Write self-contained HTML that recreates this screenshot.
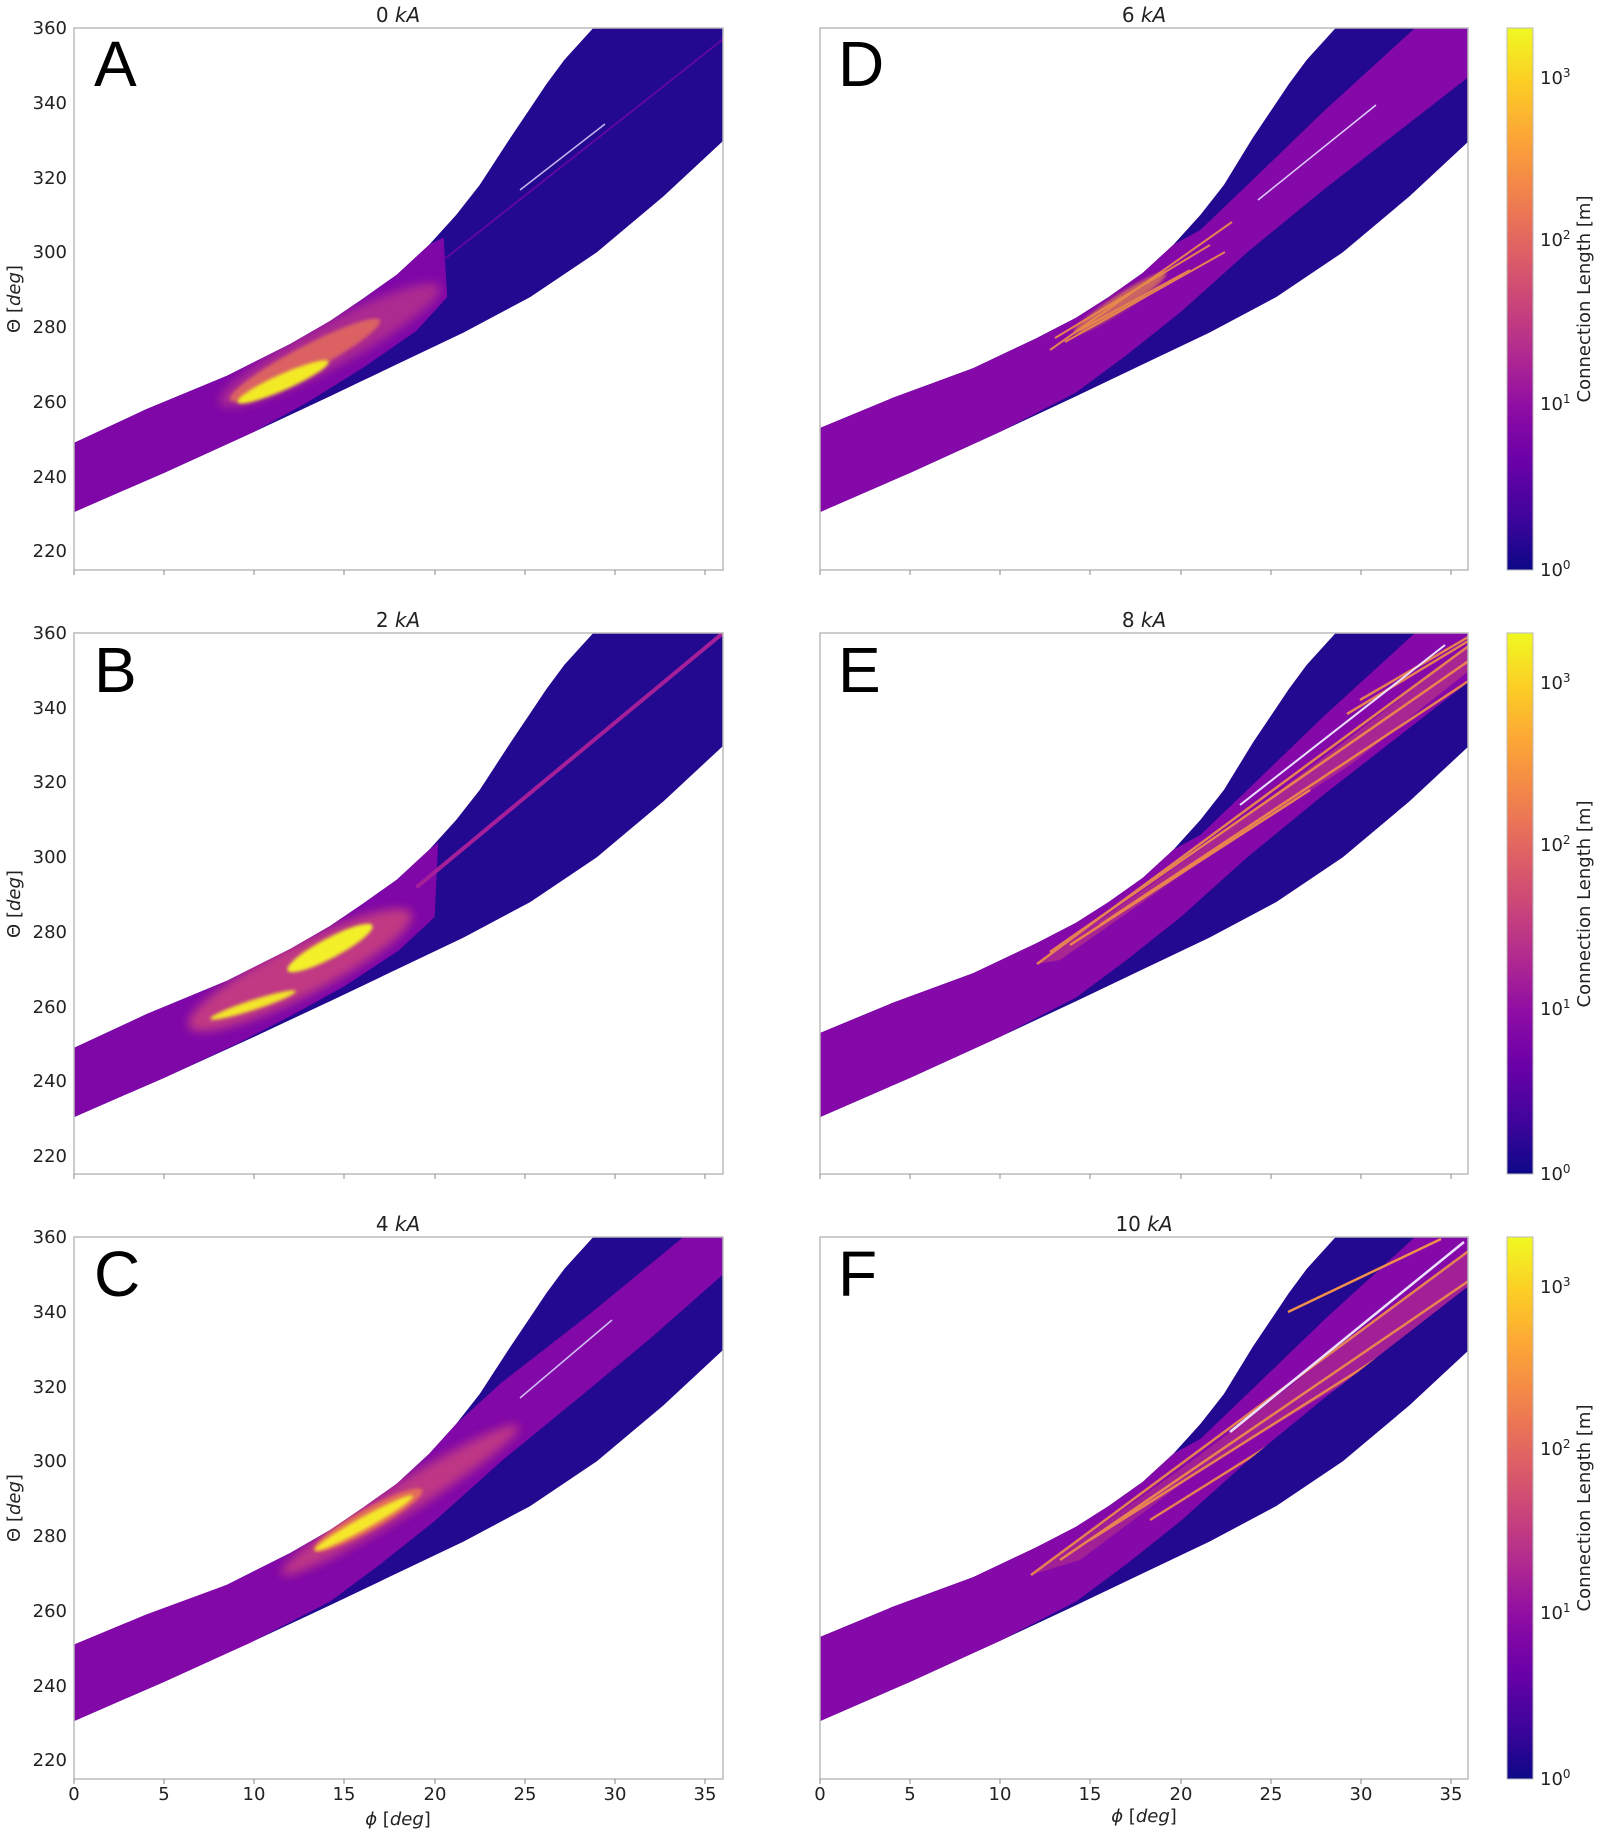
<!DOCTYPE html>
<html><head><meta charset="utf-8"><style>
html,body{margin:0;padding:0;background:#fff;}
svg{display:block;font-family:"DejaVu Sans","Liberation Sans",sans-serif;}
.t{font-size:18px;fill:#222;}
.ttl{font-size:20px;fill:#222;}
.big{font-size:64px;fill:#000;font-family:"Liberation Sans",sans-serif;}
</style></head><body>
<svg width="1600" height="1834" viewBox="0 0 1600 1834" xmlns="http://www.w3.org/2000/svg">
<defs>
<linearGradient id="plasma" x1="0" y1="1" x2="0" y2="0">
<stop offset="0" stop-color="#0d0887"/><stop offset="0.1" stop-color="#41049d"/><stop offset="0.2" stop-color="#6a00a8"/><stop offset="0.3" stop-color="#8f0da4"/><stop offset="0.4" stop-color="#b12a90"/><stop offset="0.5" stop-color="#cc4778"/><stop offset="0.6" stop-color="#e16462"/><stop offset="0.7" stop-color="#f2844b"/><stop offset="0.8" stop-color="#fca636"/><stop offset="0.9" stop-color="#fcce25"/><stop offset="1" stop-color="#f0f921"/>
</linearGradient>
<filter id="bl" x="-50%" y="-50%" width="200%" height="200%"><feGaussianBlur stdDeviation="5"/></filter>
<filter id="bl2" x="-50%" y="-50%" width="200%" height="200%"><feGaussianBlur stdDeviation="1.5"/></filter>
<path id="outerL" d="M0,230.5 L5,241 L10,252 L14.2,261.5 L17.9,270 L21.6,278.5 L25.3,288 L29,300 L32.7,315 L36,329.8 L36,360 L28.8,360 L27.2,351.5 L26.2,345 L25.3,338.5 L24.2,330.6 L22.5,318 L21.2,310 L19.7,302 L17.9,294 L16,287.5 L14.2,281.6 L12,275.5 L8.5,267 L4,258 L0,249 Z"/>
<path id="outerR" d="M0,230.5 L5,241 L10,252 L14.2,261.5 L17.9,270 L21.6,278.5 L25.3,288 L29,300 L32.7,315 L36,329.8 L36,360 L28.6,360 L27,351.5 L26,345 L25.1,338.5 L24,330.6 L22.4,318 L21.1,310 L19.6,302 L17.9,294.5 L16,288 L14.2,282.5 L12,277 L8.5,269 L4,261 L0,253 Z"/>
<path id="purpR" d="M0,230.5 L5,241 L10,252 L14.2,262.5 L17,272.5 L20,284 L23.7,300 L28,317 L32,332 L36,347 L36,360 L33,360 L28,338 L23.7,318 L21.1,306 L19.6,302 L17.9,294.5 L16,288 L14.2,282.5 L12,277 L8.5,269 L4,261 L0,253 Z"/>
<clipPath id="cA"><rect x="74" y="28" width="649" height="542"/></clipPath>
<clipPath id="cB"><rect x="74" y="633" width="649" height="541"/></clipPath>
<clipPath id="cC"><rect x="74" y="1237" width="649" height="542"/></clipPath>
<clipPath id="cD"><rect x="820" y="28" width="648" height="542"/></clipPath>
<clipPath id="cE"><rect x="820" y="633" width="648" height="541"/></clipPath>
<clipPath id="cF"><rect x="820" y="1237" width="648" height="542"/></clipPath>
<clipPath id="kA"><use href="#outerL" transform="translate(74,28) scale(18.03,3.738) translate(0,360) scale(1,-1)"/></clipPath>
<clipPath id="kB"><use href="#outerL" transform="translate(74,633) scale(18.03,3.738) translate(0,360) scale(1,-1)"/></clipPath>
<clipPath id="kC"><use href="#outerL" transform="translate(74,1237) scale(18.03,3.738) translate(0,360) scale(1,-1)"/></clipPath>
<clipPath id="kD"><use href="#purpR" transform="translate(820,28) scale(18.03,3.738) translate(0,360) scale(1,-1)"/></clipPath>
<clipPath id="kE"><use href="#purpR" transform="translate(820,633) scale(18.03,3.738) translate(0,360) scale(1,-1)"/></clipPath>
<clipPath id="kF"><use href="#purpR" transform="translate(820,1237) scale(18.03,3.738) translate(0,360) scale(1,-1)"/></clipPath>
</defs>

<!-- ===== Panel A ===== -->
<g clip-path="url(#cA)">
<g transform="translate(74,28) scale(18.03,3.738) translate(0,360) scale(1,-1)">
<use href="#outerL" fill="#22098f"/>
<path d="M0,230.5 L5,241 L10,252 L13,260 L16,269 L19,279 L20.7,288 L20.5,304 L19.7,302 L17.9,294 L16,287.5 L14.2,281.6 L12,275.5 L8.5,267 L4,258 L0,249 Z" fill="#7f07a8"/>
<path d="M20.5,298 L36,357" stroke="#5f06a6" stroke-width="2" fill="none" vector-effect="non-scaling-stroke"/>
</g>
<g clip-path="url(#kA)">
<ellipse cx="330" cy="345" rx="125" ry="22" transform="rotate(-28 330 345)" fill="#b8348a" opacity="0.8" filter="url(#bl)"/>
<ellipse cx="305" cy="360" rx="85" ry="13" transform="rotate(-28 305 360)" fill="#e0685f" opacity="0.9" filter="url(#bl2)"/>
<ellipse cx="283" cy="382" rx="50" ry="8" transform="rotate(-24 283 382)" fill="#f3ea28" filter="url(#bl2)"/>
</g>
<line x1="520" y1="190" x2="605" y2="124" stroke="#c9b8f0" stroke-width="1.5"/>
</g>
<rect x="74" y="28" width="649" height="542" fill="none" stroke="#bbb" stroke-width="1.5"/>

<!-- ===== Panel B ===== -->
<g clip-path="url(#cB)">
<g transform="translate(74,633) scale(18.03,3.738) translate(0,360) scale(1,-1)">
<use href="#outerL" fill="#22098f"/>
<path d="M0,230.5 L5,241 L9,250 L12,257.5 L15,265.5 L18,275 L20,284 L20.2,304 L19.7,302 L17.9,294 L16,287.5 L14.2,281.6 L12,275.5 L8.5,267 L4,258 L0,249 Z" fill="#7f07a8"/>
<path d="M19,292 L36,360" stroke="#a51f9a" stroke-width="4" fill="none" vector-effect="non-scaling-stroke"/>
</g>
<g clip-path="url(#kB)">
<ellipse cx="300" cy="970" rx="125" ry="26" transform="rotate(-27 300 970)" fill="#c9407f" opacity="0.9" filter="url(#bl)"/>
<ellipse cx="330" cy="948" rx="48" ry="10" transform="rotate(-28 330 948)" fill="#f3f02a" filter="url(#bl2)"/>
<ellipse cx="253" cy="1005" rx="45" ry="5" transform="rotate(-18 253 1005)" fill="#f3e52a" filter="url(#bl2)"/>
</g>
</g>
<rect x="74" y="633" width="649" height="541" fill="none" stroke="#bbb" stroke-width="1.5"/>

<!-- ===== Panel C ===== -->
<g clip-path="url(#cC)">
<g transform="translate(74,1237) scale(18.03,3.738) translate(0,360) scale(1,-1)">
<use href="#outerL" fill="#22098f"/>
<path d="M0,230.5 L5,241 L9.8,251.5 L14.2,262.5 L17,272.5 L20,284 L23.7,300 L28,317 L32,333 L36,350 L36,360 L33.8,360 L28.5,339 L23.7,321 L21.2,310 L19.7,302 L17.9,294 L16,287.5 L14.2,281.6 L12,275.5 L8.5,267 L4,259 L0,251 Z" fill="#8208a8"/>
</g>
<g clip-path="url(#kC)">
<ellipse cx="400" cy="1500" rx="140" ry="16" transform="rotate(-32 400 1500)" fill="#c9407f" opacity="0.85" filter="url(#bl)"/>
<ellipse cx="368" cy="1520" rx="62" ry="11" transform="rotate(-29 368 1520)" fill="#ee7a50" opacity="0.8" filter="url(#bl2)"/>
<ellipse cx="364" cy="1523" rx="56" ry="6" transform="rotate(-29 364 1523)" fill="#f5e82c" filter="url(#bl2)"/>
</g>
<line x1="520" y1="1398" x2="612" y2="1320" stroke="#d0c0f5" stroke-width="1.5"/>
</g>
<rect x="74" y="1237" width="649" height="542" fill="none" stroke="#bbb" stroke-width="1.5"/>

<!-- ===== Panel D ===== -->
<g clip-path="url(#cD)">
<g transform="translate(820,28) scale(18.03,3.738) translate(0,360) scale(1,-1)">
<use href="#outerR" fill="#22098f"/>
<use href="#purpR" fill="#8508a8"/>
</g>
<g clip-path="url(#kD)" stroke="#f0904a" stroke-width="2" fill="none" opacity="0.9">
<line x1="1050" y1="350" x2="1232" y2="222"/>
<line x1="1055" y1="338" x2="1210" y2="245"/>
<line x1="1065" y1="342" x2="1225" y2="252"/>
<line x1="1080" y1="330" x2="1190" y2="270"/>
<ellipse cx="1120" cy="303" rx="55" ry="8" transform="rotate(-33 1120 303)" fill="#f39a3d" opacity="0.7" stroke="none" filter="url(#bl2)"/>
</g>
<line x1="1258" y1="200" x2="1376" y2="105" stroke="#e0d0ff" stroke-width="1.5"/>
</g>
<rect x="820" y="28" width="648" height="542" fill="none" stroke="#bbb" stroke-width="1.5"/>

<!-- ===== Panel E ===== -->
<g clip-path="url(#cE)">
<g transform="translate(820,633) scale(18.03,3.738) translate(0,360) scale(1,-1)">
<use href="#outerR" fill="#22098f"/>
<use href="#purpR" fill="#8508a8"/>
</g>
<g clip-path="url(#kE)">
<polygon points="1037,964 1200,850 1340,745 1470,645 1470,670 1350,765 1200,862 1060,960" fill="#b4308a" opacity="0.75"/>
<g stroke="#f0904a" stroke-width="2.5" fill="none" opacity="0.9">
<line x1="1037" y1="964" x2="1470" y2="645"/>
<line x1="1050" y1="952" x2="1470" y2="660"/>
<line x1="1070" y1="945" x2="1310" y2="790"/>
<line x1="1100" y1="925" x2="1470" y2="680"/>
<line x1="1347" y1="714" x2="1470" y2="640"/>
<line x1="1360" y1="700" x2="1470" y2="636"/>
</g>
</g>
<line x1="1240" y1="805" x2="1445" y2="645" stroke="#ece0ff" stroke-width="2"/>
</g>
<rect x="820" y="633" width="648" height="541" fill="none" stroke="#bbb" stroke-width="1.5"/>

<!-- ===== Panel F ===== -->
<g clip-path="url(#cF)">
<g transform="translate(820,1237) scale(18.03,3.738) translate(0,360) scale(1,-1)">
<use href="#outerR" fill="#22098f"/>
<use href="#purpR" fill="#8508a8"/>
</g>
<g clip-path="url(#kF)">
<polygon points="1031,1575 1200,1455 1350,1340 1470,1250 1470,1290 1350,1380 1200,1470 1080,1560" fill="#b4308a" opacity="0.6"/>
<g stroke="#f0904a" stroke-width="2.5" fill="none" opacity="0.9">
<line x1="1031" y1="1575" x2="1470" y2="1250"/>
<line x1="1060" y1="1560" x2="1470" y2="1280"/>
<line x1="1090" y1="1540" x2="1470" y2="1300"/>
<line x1="1150" y1="1520" x2="1470" y2="1320"/>
</g>
</g>
<line x1="1288" y1="1312" x2="1441" y2="1239" stroke="#f0904a" stroke-width="2.5"/>
<line x1="1230" y1="1432" x2="1464" y2="1242" stroke="#ece0ff" stroke-width="2.5"/>
</g>
<rect x="820" y="1237" width="648" height="542" fill="none" stroke="#bbb" stroke-width="1.5"/>

<!-- tick marks -->
<g stroke="#888" stroke-width="1">
<path d="M74,570v5M164,570v5M254,570v5M344,570v5M435,570v5M525,570v5M615,570v5M705,570v5 M74,1174v5M164,1174v5M254,1174v5M344,1174v5M435,1174v5M525,1174v5M615,1174v5M705,1174v5 M74,1779v5M164,1779v5M254,1779v5M344,1779v5M435,1779v5M525,1779v5M615,1779v5M705,1779v5"/>
<path d="M820,570v5M910,570v5M1000,570v5M1090,570v5M1181,570v5M1271,570v5M1361,570v5M1451,570v5 M820,1174v5M910,1174v5M1000,1174v5M1090,1174v5M1181,1174v5M1271,1174v5M1361,1174v5M1451,1174v5 M820,1779v5M910,1779v5M1000,1779v5M1090,1779v5M1181,1779v5M1271,1779v5M1361,1779v5M1451,1779v5"/>
</g>

<!-- Big letters -->
<text class="big" x="94" y="86">A</text>
<text class="big" x="94" y="692">B</text>
<text class="big" x="94" y="1296">C</text>
<text class="big" x="838" y="86">D</text>
<text class="big" x="838" y="692">E</text>
<text class="big" x="838" y="1296">F</text>

<!-- Titles -->
<g class="ttl" text-anchor="middle">
<text x="398" y="22">0 <tspan font-style="italic">kA</tspan></text>
<text x="398" y="627">2 <tspan font-style="italic">kA</tspan></text>
<text x="398" y="1231">4 <tspan font-style="italic">kA</tspan></text>
<text x="1144" y="22">6 <tspan font-style="italic">kA</tspan></text>
<text x="1144" y="627">8 <tspan font-style="italic">kA</tspan></text>
<text x="1144" y="1231">10 <tspan font-style="italic">kA</tspan></text>
</g>

<!-- Y ticks left -->
<g class="t" text-anchor="end">
<text x="67" y="34">360</text><text x="67" y="109">340</text><text x="67" y="184">320</text><text x="67" y="258">300</text><text x="67" y="333">280</text><text x="67" y="408">260</text><text x="67" y="483">240</text><text x="67" y="557">220</text>
<text x="67" y="639">360</text><text x="67" y="714">340</text><text x="67" y="788">320</text><text x="67" y="863">300</text><text x="67" y="938">280</text><text x="67" y="1013">260</text><text x="67" y="1087">240</text><text x="67" y="1162">220</text>
<text x="67" y="1243">360</text><text x="67" y="1318">340</text><text x="67" y="1393">320</text><text x="67" y="1467">300</text><text x="67" y="1542">280</text><text x="67" y="1617">260</text><text x="67" y="1692">240</text><text x="67" y="1766">220</text>
</g>
<g class="t" text-anchor="middle">
<text transform="translate(20,299) rotate(-90)">Θ [<tspan font-style="italic">deg</tspan>]</text>
<text transform="translate(20,904) rotate(-90)">Θ [<tspan font-style="italic">deg</tspan>]</text>
<text transform="translate(20,1508) rotate(-90)">Θ [<tspan font-style="italic">deg</tspan>]</text>
</g>

<!-- X ticks labels -->
<g class="t" text-anchor="middle">
<text x="74" y="1800">0</text><text x="164" y="1800">5</text><text x="254" y="1800">10</text><text x="344" y="1800">15</text><text x="435" y="1800">20</text><text x="525" y="1800">25</text><text x="615" y="1800">30</text><text x="705" y="1800">35</text>
<text x="820" y="1800">0</text><text x="910" y="1800">5</text><text x="1000" y="1800">10</text><text x="1090" y="1800">15</text><text x="1181" y="1800">20</text><text x="1271" y="1800">25</text><text x="1361" y="1800">30</text><text x="1451" y="1800">35</text>
<text x="398" y="1825"><tspan font-style="italic">ϕ</tspan> [<tspan font-style="italic">deg</tspan>]</text>
<text x="1144" y="1822"><tspan font-style="italic">ϕ</tspan> [<tspan font-style="italic">deg</tspan>]</text>
</g>

<!-- Colorbars -->
<g>
<rect x="1507" y="28" width="26" height="542" fill="url(#plasma)" stroke="#bbb"/>
<rect x="1507" y="633" width="26" height="541" fill="url(#plasma)" stroke="#bbb"/>
<rect x="1507" y="1237" width="26" height="542" fill="url(#plasma)" stroke="#bbb"/>
</g>
<g class="t" font-size="17">
<text x="1540" y="84">10<tspan dy="-7" font-size="12">3</tspan></text>
<text x="1540" y="246">10<tspan dy="-7" font-size="12">2</tspan></text>
<text x="1540" y="410">10<tspan dy="-7" font-size="12">1</tspan></text>
<text x="1540" y="576">10<tspan dy="-7" font-size="12">0</tspan></text>
<text x="1540" y="689">10<tspan dy="-7" font-size="12">3</tspan></text>
<text x="1540" y="851">10<tspan dy="-7" font-size="12">2</tspan></text>
<text x="1540" y="1015">10<tspan dy="-7" font-size="12">1</tspan></text>
<text x="1540" y="1180">10<tspan dy="-7" font-size="12">0</tspan></text>
<text x="1540" y="1293">10<tspan dy="-7" font-size="12">3</tspan></text>
<text x="1540" y="1455">10<tspan dy="-7" font-size="12">2</tspan></text>
<text x="1540" y="1619">10<tspan dy="-7" font-size="12">1</tspan></text>
<text x="1540" y="1785">10<tspan dy="-7" font-size="12">0</tspan></text>
</g>
<g class="t" text-anchor="middle">
<text transform="translate(1590,299) rotate(-90)">Connection Length [m]</text>
<text transform="translate(1590,904) rotate(-90)">Connection Length [m]</text>
<text transform="translate(1590,1508) rotate(-90)">Connection Length [m]</text>
</g>
</svg>
</body></html>
